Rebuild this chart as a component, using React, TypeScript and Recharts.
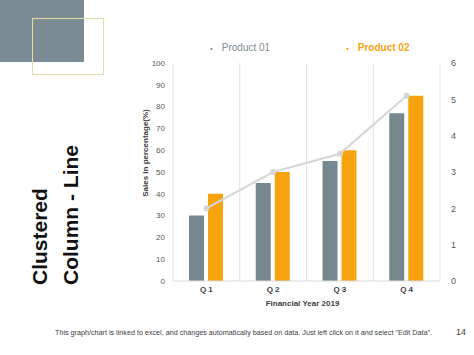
import { ComposedChart, Bar, Line, XAxis, YAxis, CartesianGrid } from "recharts"

const quarters = ["Q 1", "Q 2", "Q 3", "Q 4"]
const product01 = [30, 45, 55, 77]
const product02 = [40, 50, 60, 85]
const trend = [2.0, 3.0, 3.5, 5.1]
const leftTicks = [0, 10, 20, 30, 40, 50, 60, 70, 80, 90, 100]
const rightTicks = [0, 1, 2, 3, 4, 5, 6]

const GRAY = "#76878f"
const ORANGE = "#f6a30f"
const LINE = "#d6d6d6"
const FONT = "'Liberation Sans', Arial, sans-serif"

const data = quarters.map((q, i) => ({
  q,
  p1: product01[i],
  p2: product02[i],
  t: trend[i],
}))

export default function App() {
  return (
    <div style={{ position: "absolute", left: 0, top: 0, width: 474, height: 355, background: "#fff", overflow: "hidden", fontFamily: FONT }}>
      {/* slide decoration */}
      <div style={{ position: "absolute", left: 0, top: 0, width: 84, height: 62, background: "#7b8b93" }} />
      <div style={{ position: "absolute", left: 32, top: 18, width: 70, height: 55, border: "1.5px solid #e2dea4" }} />
      <svg style={{ position: "absolute", left: 0, top: 0 }} width={110} height={355}>
        <text transform="translate(47,285) rotate(-90)" fontFamily={FONT} fontWeight={700} fontSize={21} fill="#111">
          Clustered
        </text>
        <text transform="translate(78,285) rotate(-90)" fontFamily={FONT} fontWeight={700} fontSize={21} fill="#111">
          Column - Line
        </text>
      </svg>

      {/* legend */}
      <div style={{ position: "absolute", top: 42, left: 210, fontSize: 10, color: "#7f8c93", whiteSpace: "nowrap" }}>
        <span style={{ fontSize: 8, marginRight: 9 }}>•</span>Product 01
      </div>
      <div style={{ position: "absolute", top: 42, left: 346, fontSize: 10, color: ORANGE, fontWeight: 700, whiteSpace: "nowrap" }}>
        <span style={{ fontSize: 8, marginRight: 9 }}>•</span>Product 02
      </div>

      <div style={{ position: "absolute", left: 0, top: 0 }}>
        <ComposedChart
          width={474}
          height={355}
          data={data}
          margin={{ top: 63, right: 4, bottom: 44, left: 133 }}
          barCategoryGap={16}
          barGap={4}
        >
          <CartesianGrid
            horizontal={false}
            stroke="#e0e0e0"
            verticalCoordinatesGenerator={({ offset }: any) =>
              quarters
                .map((_, i) => offset.left + (i * offset.width) / quarters.length)
                .concat(offset.left + offset.width)
            }
          />
          <XAxis
            dataKey="q"
            height={30}
            axisLine={{ stroke: "#d9d9d9" }}
            tickLine={false}
            tickSize={4}
            tickMargin={1}
            tick={{ fontSize: 8, fill: "#404040", fontWeight: 700 }}
            label={(props: any) => {
              const vb = props.viewBox
              return (
                <text x={vb.x + vb.width / 2 - 4} y={vb.y + 25} textAnchor="middle" fontSize={8} fontWeight={700} fill="#404040">
                  Financial Year 2019
                </text>
              )
            }}
          />
          <YAxis
            yAxisId="left"
            width={40}
            domain={[0, 100]}
            ticks={leftTicks}
            interval={0}
            axisLine={false}
            tickLine={false}
            tick={{ fontSize: 8, fill: "#595959" }}
            label={(props: any) => {
              const vb = props.viewBox
              return (
                <text transform={`translate(${vb.x + 15},${vb.y + vb.height / 2 - 19}) rotate(-90)`} textAnchor="middle" fontSize={8} fontWeight={700} fill="#404040">
                  Sales in percentage(%)
                </text>
              )
            }}
          />
          <YAxis
            yAxisId="right"
            orientation="right"
            width={30}
            domain={[0, 6]}
            ticks={rightTicks}
            interval={0}
            axisLine={false}
            tickLine={false}
            tickMargin={5}
            tick={{ fontSize: 9, fill: "#595959" }}
          />
          <Bar yAxisId="left" dataKey="p1" fill={GRAY} isAnimationActive={false} />
          <Bar yAxisId="left" dataKey="p2" fill={ORANGE} isAnimationActive={false} />
          <Line
            yAxisId="right"
            dataKey="t"
            stroke={LINE}
            strokeWidth={2}
            dot={{ r: 3, fill: LINE, stroke: LINE, strokeWidth: 0 }}
            isAnimationActive={false}
          />
        </ComposedChart>
      </div>

      {/* footer */}
      <div style={{ position: "absolute", left: 55, top: 328, fontSize: 7.2, color: "#404040", whiteSpace: "nowrap" }}>
        This graph/chart is linked to excel, and changes automatically based on data. Just left click on it and select "Edit Data".
      </div>
      <div style={{ position: "absolute", left: 456, top: 327, fontSize: 9, color: "#404040" }}>14</div>
    </div>
  )
}
